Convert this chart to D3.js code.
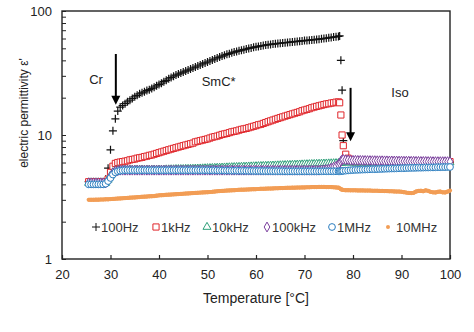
<!DOCTYPE html>
<html><head><meta charset="utf-8">
<script src="https://cdn.jsdelivr.net/npm/d3@7"></script>
<style>body{margin:0;background:#fff}svg{display:block}</style>
</head><body><svg id="c" width="474" height="332"></svg>
<script>
const temps = [
25.5,26,26.5,27,27.5,28,28.5,29,29.5,30,
30.5,31,31.5,32,32.5,33,33.5,34,34.5,35,
35.5,36,36.5,37,37.5,38,38.5,39,39.5,40,
40.5,41,41.5,42,42.5,43,43.5,44,44.5,45,
45.5,46,46.5,47,47.5,48,48.5,49,49.5,50,
50.5,51,51.5,52,52.5,53,53.5,54,54.5,55,
55.5,56,56.5,57,57.5,58,58.5,59,59.5,60,
60.5,61,61.5,62,62.5,63,63.5,64,64.5,65,
65.5,66,66.5,67,67.5,68,68.5,69,69.5,70,
70.5,71,71.5,72,72.5,73,73.5,74,74.5,75,
75.5,76,76.5,77,
77.25,77.5,77.75,78,78.5,79,79.5,
80,80.5,81,81.5,82,82.5,83,83.5,84,84.5,
85,85.5,86,86.5,87,87.5,88,88.5,89,89.5,
90,90.5,91,91.5,92,92.5,93,93.5,94,94.5,
95,95.5,96,96.5,97,97.5,98,98.5,99,99.5,100];

const hz100 = [
4.2,4.2,4.2,4.2,4.2,4.2,4.2,4.4,5.4,7.6,
10.8,13.5,15.6,16.8,17.3,17.9,18.5,19.1,19.7,20.3,
20.9,21.5,21.9,22.3,22.8,23.2,23.7,24.3,24.9,25.5,
26.2,26.9,27.6,28.4,29.1,29.8,30.4,31.0,31.6,32.2,
32.8,33.4,34.0,34.7,35.3,36.0,36.7,37.4,38.1,38.8,
39.5,40.3,41.0,41.8,42.5,43.3,44.0,44.7,45.3,46.0,
46.6,47.2,47.7,48.3,48.8,49.4,49.9,50.4,50.9,51.4,
51.8,52.3,52.7,53.1,53.5,53.8,54.1,54.4,54.7,55.0,
55.2,55.5,55.7,56.0,56.3,56.6,56.8,57.1,57.4,57.7,
57.9,58.2,58.4,58.7,59.0,59.3,59.6,60.0,60.4,60.8,
61.2,61.6,62.0,62.4,
63.0,40.0,23.0,9.0,6.8,6.4,6.2,
6.1,6.1,6.1,6.1,6.1,6.1,6.1,6.1,6.1,6.1,
6.1,6.1,6.1,6.1,6.1,6.1,6.1,6.1,6.1,6.1,
6.05,6.05,6.05,6.05,6.05,6.05,6.05,6.05,6.05,6.05,
6.05,6.05,6.05,6.05,6.05,6.05,6.05,6.05,6.05,6.05,6.05];

const hz1k = [
4.2,4.2,4.2,4.2,4.2,4.2,4.2,4.2,4.4,5.0,
5.6,5.9,6.0,6.05,6.1,6.15,6.2,6.3,6.35,6.4,
6.5,6.55,6.6,6.7,6.75,6.85,6.9,7.0,7.1,7.2,
7.3,7.4,7.5,7.6,7.7,7.8,7.9,8.0,8.1,8.2,
8.3,8.4,8.5,8.6,8.8,8.9,9.0,9.1,9.2,9.3,
9.45,9.6,9.7,9.8,9.95,10.1,10.2,10.3,10.45,10.6,
10.7,10.8,10.95,11.1,11.2,11.3,11.45,11.6,11.75,11.9,
12.1,12.2,12.4,12.6,12.8,13.0,13.2,13.4,13.6,13.8,
14.0,14.2,14.4,14.6,14.8,15.0,15.2,15.4,15.7,15.9,
16.1,16.3,16.6,16.8,17.0,17.2,17.4,17.6,17.8,17.9,
18.1,18.2,18.4,18.5,
18.2,14.5,10.0,8.2,7.0,6.5,6.3,
6.15,6.15,6.15,6.15,6.15,6.15,6.15,6.15,6.15,6.15,
6.1,6.1,6.1,6.1,6.1,6.1,6.1,6.1,6.1,6.1,
6.1,6.1,6.1,6.1,6.1,6.1,6.1,6.1,6.1,6.1,
6.1,6.1,6.1,6.1,6.1,6.1,6.1,6.1,6.1,6.1,6.1];

const hz10k = [
4.1,4.1,4.1,4.1,4.1,4.1,4.1,4.1,4.35,4.7,
5.0,5.15,5.2,5.25,5.25,5.25,5.25,5.25,5.25,5.25,
5.25,5.25,5.25,5.25,5.25,5.25,5.25,5.25,5.25,5.25,
5.25,5.25,5.27,5.27,5.28,5.28,5.3,5.3,5.3,5.3,
5.32,5.32,5.33,5.33,5.35,5.35,5.36,5.37,5.38,5.39,
5.4,5.41,5.42,5.43,5.44,5.45,5.46,5.47,5.48,5.49,
5.5,5.51,5.52,5.53,5.54,5.55,5.56,5.57,5.58,5.59,
5.6,5.61,5.62,5.63,5.64,5.65,5.66,5.67,5.68,5.69,
5.7,5.71,5.72,5.73,5.74,5.75,5.76,5.77,5.78,5.79,
5.8,5.81,5.82,5.83,5.84,5.85,5.86,5.87,5.88,5.89,
5.9,5.91,5.92,5.93,
5.95,5.97,6.0,6.0,6.0,6.0,6.0,
6.0,6.0,6.0,6.0,6.0,6.0,6.0,6.0,6.0,6.0,
6.0,6.0,6.0,6.0,6.0,6.0,6.0,6.0,6.0,6.0,
6.0,6.0,6.0,6.0,6.0,6.0,6.0,6.0,6.0,6.0,
6.0,6.0,6.0,6.0,6.0,6.0,6.0,6.0,6.0,6.0,6.0];

const hz100k = [
4.1,4.1,4.1,4.1,4.1,4.1,4.1,4.1,4.3,4.65,
4.95,5.1,5.15,5.2,5.2,5.2,5.2,5.2,5.2,5.2,
5.2,5.2,5.2,5.2,5.2,5.2,5.2,5.2,5.2,5.2,
5.2,5.2,5.2,5.2,5.2,5.2,5.2,5.2,5.2,5.2,
5.2,5.2,5.2,5.2,5.2,5.2,5.2,5.2,5.2,5.2,
5.2,5.2,5.2,5.2,5.2,5.2,5.2,5.2,5.2,5.2,
5.2,5.2,5.2,5.2,5.2,5.2,5.2,5.2,5.2,5.2,
5.2,5.2,5.2,5.2,5.2,5.2,5.2,5.2,5.2,5.2,
5.2,5.2,5.2,5.2,5.2,5.2,5.2,5.2,5.2,5.2,
5.2,5.2,5.2,5.2,5.2,5.2,5.22,5.24,5.26,5.3,
5.4,5.5,5.6,5.75,
5.95,6.15,6.3,6.35,6.3,6.3,6.25,
6.25,6.25,6.24,6.24,6.23,6.23,6.22,6.22,6.21,6.21,
6.2,6.2,6.2,6.19,6.19,6.18,6.18,6.17,6.17,6.16,
6.16,6.15,6.15,6.15,6.14,6.14,6.13,6.13,6.12,6.12,
6.12,6.11,6.11,6.1,6.1,6.1,6.1,6.1,6.1,6.1,6.1];

const hz1M = [
4.0,4.0,4.0,4.0,4.0,4.0,4.0,4.05,4.25,4.5,
4.8,5.0,5.1,5.15,5.18,5.2,5.2,5.2,5.2,5.2,
5.2,5.2,5.2,5.2,5.2,5.2,5.2,5.2,5.2,5.2,
5.2,5.2,5.2,5.2,5.2,5.2,5.2,5.2,5.2,5.2,
5.2,5.2,5.2,5.2,5.2,5.2,5.2,5.2,5.2,5.2,
5.19,5.19,5.19,5.18,5.18,5.18,5.17,5.17,5.17,5.16,
5.16,5.16,5.15,5.15,5.15,5.14,5.14,5.14,5.13,5.13,
5.13,5.13,5.12,5.12,5.12,5.12,5.11,5.11,5.11,5.11,
5.11,5.1,5.1,5.1,5.1,5.1,5.1,5.1,5.1,5.1,
5.1,5.1,5.1,5.1,5.1,5.1,5.1,5.1,5.1,5.1,
5.1,5.1,5.1,5.1,
5.1,5.1,5.12,5.14,5.16,5.18,5.2,
5.22,5.23,5.24,5.25,5.26,5.27,5.28,5.29,5.3,5.3,
5.31,5.32,5.33,5.34,5.35,5.36,5.37,5.37,5.38,5.39,
5.4,5.4,5.41,5.42,5.43,5.43,5.44,5.45,5.45,5.46,
5.47,5.47,5.48,5.48,5.49,5.5,5.5,5.51,5.51,5.52,5.52];

const hz10M = [
3.0,3.0,3.0,3.01,3.01,3.02,3.02,3.03,3.03,3.04,
3.05,3.06,3.07,3.08,3.09,3.1,3.11,3.12,3.13,3.14,
3.15,3.16,3.17,3.18,3.19,3.2,3.21,3.22,3.24,3.26,
3.27,3.28,3.29,3.3,3.31,3.32,3.33,3.34,3.35,3.36,
3.37,3.38,3.39,3.4,3.41,3.42,3.43,3.44,3.45,3.46,
3.47,3.48,3.5,3.52,3.53,3.54,3.55,3.56,3.57,3.58,
3.59,3.6,3.61,3.62,3.62,3.63,3.64,3.65,3.66,3.66,
3.67,3.68,3.68,3.69,3.7,3.7,3.71,3.72,3.72,3.73,
3.73,3.74,3.75,3.75,3.76,3.76,3.77,3.77,3.78,3.78,
3.79,3.79,3.8,3.8,3.8,3.81,3.81,3.81,3.8,3.8,
3.8,3.79,3.78,3.76,
3.72,3.66,3.62,3.6,3.59,3.59,3.58,
3.58,3.58,3.57,3.57,3.57,3.56,3.56,3.56,3.55,3.55,
3.55,3.54,3.54,3.53,3.53,3.52,3.52,3.51,3.5,3.5,
3.48,3.46,3.43,3.41,3.4,3.42,3.5,3.54,3.55,3.52,
3.58,3.54,3.48,3.45,3.44,3.48,3.5,3.45,3.44,3.5,3.56];

const xTicks = [20,30,40,50,60,70,80,90,100];
const yMajor = [1,10,100];
const legendLabels = ["100Hz","1kHz","10kHz","100kHz","1MHz","10MHz"];
const phaseLabels = ["Cr","SmC*","Iso"];

const svg = d3.select("#c");
const x = d3.scaleLinear().domain([20,100]).range([62,450]);
const y = d3.scaleLog().domain([1,100]).range([259,11]);

const font = "'Liberation Sans', Arial, sans-serif";

// y axis with log minor ticks
const yTickVals = [];
[1,10].forEach(b => { for (let k=1;k<10;k++) yTickVals.push(b*k); });
yTickVals.push(100);
const yAx = svg.append("g").attr("transform","translate(62,0)")
  .call(d3.axisLeft(y).tickValues(yTickVals).tickSizeInner(-4).tickSizeOuter(0).tickPadding(10)
    .tickFormat(d => yMajor.includes(d) ? String(d) : ""));
yAx.select(".domain").remove();
yAx.selectAll(".tick line").attr("stroke","#222").attr("stroke-width",1);
yAx.selectAll(".tick text").attr("font-family",font).attr("font-size",13).attr("fill","#222");

const xAx = svg.append("g").attr("transform","translate(0,259)")
  .call(d3.axisBottom(x).tickValues(xTicks).tickSizeInner(-4).tickSizeOuter(0).tickPadding(11));
xAx.select(".domain").remove();
xAx.selectAll(".tick line").attr("stroke","#222").attr("stroke-width",1.2);
xAx.selectAll(".tick text").attr("font-family",font).attr("font-size",13).attr("fill","#222");

// frame
svg.append("rect").attr("x",x(20)).attr("y",y(100)).attr("width",x(100)-x(20)).attr("height",y(1)-y(100))
  .attr("fill","none").attr("stroke","#222").attr("stroke-width",1.4);

// axis titles
svg.append("text").attr("x",(x(20)+x(100))/2).attr("y",303).attr("text-anchor","middle")
  .attr("font-family",font).attr("font-size",14).attr("fill","#222").text("Temperature [°C]");
svg.append("text").attr("transform","translate(28,"+((y(1)+y(100))/2-22)+") rotate(-90)")
  .attr("text-anchor","middle").attr("font-family",font).attr("font-size",12).attr("fill","#222")
  .text("electric permittivity ε'");

// marker shapes
const plusPath = "M-4,0H4M0,-4V4";
const series = [
  {name:legendLabels[0], vals:hz100, type:"plus", color:"#111"},
  {name:legendLabels[1], vals:hz1k, type:"square", color:"#e0262b"},
  {name:legendLabels[2], vals:hz10k, type:"triangle", color:"#2fa07a"},
  {name:legendLabels[3], vals:hz100k, type:"diamond", color:"#7b3f9e"},
  {name:legendLabels[4], vals:hz1M, type:"circle", color:"#2a7dbf"},
  {name:legendLabels[5], vals:hz10M, type:"dot", color:"#f29d55"}
];
function shapePath(type){
  if (type==="plus") return plusPath;
  if (type==="square") return d3.symbol(d3.symbolSquare, 38)();
  if (type==="triangle") return d3.symbol(d3.symbolTriangle, 28)();
  if (type==="diamond") return d3.symbol(d3.symbolDiamond, 28)();
  if (type==="circle") return d3.symbol(d3.symbolCircle, 36)();
  return null;
}

const plot = svg.append("g");
series.forEach(s => {
  const pts = temps.map((t,i) => [t, s.vals[i]]);
  const g = plot.append("g");
  if (s.type==="dot") {
    g.append("path").datum(pts)
      .attr("d", d3.line().x(d=>x(d[0])).y(d=>y(d[1])))
      .attr("fill","none").attr("stroke",s.color).attr("stroke-width",4).attr("stroke-linejoin","round");
    g.selectAll("circle").data(pts).join("circle")
      .attr("cx",d=>x(d[0])).attr("cy",d=>y(d[1])).attr("r",2.1).attr("fill",s.color);
  } else {
    const p = shapePath(s.type);
    g.selectAll("path").data(pts).join("path")
      .attr("d",p).attr("transform",d=>`translate(${x(d[0])},${y(d[1])})`)
      .attr("fill", s.type==="plus" ? "none" : "#fff")
      .attr("stroke",s.color).attr("stroke-width", s.type==="plus" ? 1.2 : 1);
  }
});

// annotations: arrows & phase labels
function arrow(xv, y0, y1){
  const ax = x(xv);
  svg.append("line").attr("x1",ax).attr("x2",ax).attr("y1",y0).attr("y2",y1-7)
    .attr("stroke","#000").attr("stroke-width",2);
  svg.append("path").attr("d",`M${ax-4.5},${y1-9}L${ax+4.5},${y1-9}L${ax},${y1}Z`).attr("fill","#000");
}
arrow(31.1, y(45), y(17.5));
arrow(79.5, y(24), y(8.9));
svg.append("text").attr("x",x(25.6)).attr("y",y(26)).attr("font-family",font).attr("font-size",13).attr("fill","#222").text(phaseLabels[0]);
svg.append("text").attr("x",x(48.8)).attr("y",y(25)).attr("font-family",font).attr("font-size",13).attr("fill","#222").text(phaseLabels[1]);
svg.append("text").attr("x",x(87.9)).attr("y",y(20.2)).attr("font-family",font).attr("font-size",13).attr("fill","#222").text(phaseLabels[2]);

// legend
const legX = [96,156,207,267,332,388];
const legY = 227;
series.forEach((s,i) => {
  const g = svg.append("g").attr("transform",`translate(${legX[i]},${legY})`);
  if (s.type==="dot") {
    g.append("circle").attr("r",2).attr("fill",s.color);
  } else {
    g.append("path").attr("d",shapePath(s.type)).attr("fill",s.type==="plus"?"none":"#fff")
      .attr("stroke",s.color).attr("stroke-width",1);
  }
  g.append("text").attr("x", s.type==="dot" ? 8 : 5).attr("y",4.6)
    .attr("font-family",font).attr("font-size",13).attr("fill","#333").text(s.name);
});
</script></body></html>
